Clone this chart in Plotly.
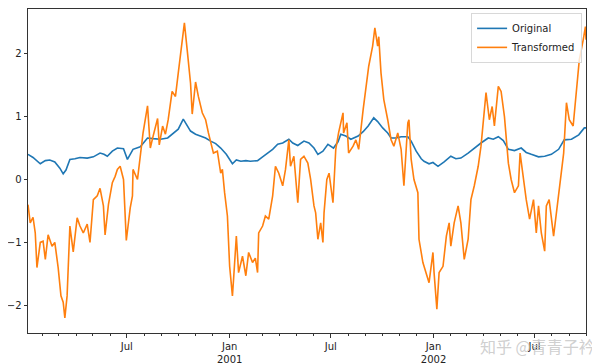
import pandas as pd
import plotly.graph_objects as go

start = pd.Timestamp("2000-01-06")

# Day offsets (from 2000-01-06) and values
orig_day = [0, 9, 22, 31, 39, 48, 57, 63, 68, 75, 84, 93, 106, 117, 129, 136, 142, 151, 160, 171,
            178, 183, 188, 201, 214, 224, 237, 250, 260, 269, 278, 285, 291, 300, 309, 318, 327, 336,
            345, 355, 366, 373, 381, 390, 398, 411, 420, 429, 438, 447, 456, 467, 474, 483, 494, 503,
            512, 519, 528, 537, 547, 555, 560, 569, 578, 591, 600, 609, 619, 626, 635, 644, 650, 659,
            668, 680, 686, 695, 704, 709, 718, 725, 734, 745, 757, 766, 775, 788, 799, 811, 824, 833,
            842, 851, 860, 871, 883, 892, 901, 914, 925, 937, 950, 960, 973, 986, 996, 999]
orig_val = [0.40, 0.35, 0.25, 0.30, 0.31, 0.28, 0.18, 0.09, 0.15, 0.32, 0.33, 0.35, 0.34, 0.36, 0.42,
            0.40, 0.37, 0.45, 0.50, 0.49, 0.32, 0.40, 0.48, 0.52, 0.66, 0.65, 0.64, 0.66, 0.74, 0.80,
            0.96, 0.85, 0.77, 0.72, 0.69, 0.66, 0.61, 0.57, 0.50, 0.40, 0.25, 0.31, 0.29, 0.30, 0.29,
            0.30, 0.36, 0.42, 0.48, 0.56, 0.58, 0.64, 0.58, 0.54, 0.61, 0.58, 0.50, 0.40, 0.45, 0.56,
            0.50, 0.60, 0.72, 0.69, 0.64, 0.69, 0.76, 0.85, 0.98, 0.92, 0.82, 0.74, 0.66, 0.66, 0.68,
            0.68, 0.61, 0.45, 0.33, 0.29, 0.25, 0.27, 0.21, 0.28, 0.37, 0.33, 0.34, 0.42, 0.50, 0.58,
            0.66, 0.64, 0.68, 0.62, 0.48, 0.46, 0.50, 0.43, 0.40, 0.36, 0.37, 0.40, 0.48, 0.63, 0.64,
            0.71, 0.82, 0.82]

trans_day = [0, 4, 9, 13, 16, 22, 27, 31, 36, 43, 48, 54, 59, 63, 66, 70, 75, 81, 88, 93, 99, 106,
             111, 117, 124, 129, 135, 138, 144, 151, 156, 160, 165, 171, 176, 180, 183, 187, 188, 196,
             201, 206, 214, 219, 224, 232, 235, 241, 246, 251, 258, 264, 269, 276, 280, 285, 291, 294,
             300, 305, 312, 318, 323, 332, 339, 345, 348, 352, 357, 361, 366, 368, 373, 377, 384, 390,
             395, 402, 407, 411, 413, 420, 425, 431, 438, 443, 449, 456, 461, 467, 470, 476, 483, 488,
             494, 501, 506, 512, 515, 519, 524, 528, 530, 535, 539, 546, 551, 556, 564, 565, 571, 574,
             582, 587, 592, 600, 605, 610, 617, 621, 626, 628, 632, 637, 644, 650, 655, 662, 668, 673,
             680, 682, 686, 691, 698, 700, 707, 713, 718, 725, 727, 732, 736, 743, 749, 754, 757, 763,
             770, 775, 781, 788, 793, 799, 806, 811, 817, 820, 826, 831, 835, 842, 847, 853, 860, 865,
             871, 878, 881, 887, 892, 898, 905, 910, 914, 919, 925, 928, 933, 941, 946, 951, 959, 964,
             969, 976, 982, 987, 994, 998, 999]
trans_val = [-0.40, -0.69, -0.60, -0.85, -1.40, -1.00, -0.98, -1.27, -0.88, -1.06, -1.00, -1.40,
             -1.85, -1.95, -2.20, -1.85, -0.74, -1.15, -0.61, -0.74, -0.85, -0.71, -1.00, -0.32, -0.26,
             -0.14, -0.42, -0.88, -0.40, -0.05, 0.05, 0.16, 0.21, 0.00, -0.97, -0.66, -0.45, -0.26,
             0.16, 0.00, 0.42, 0.74, 1.17, 0.50, 0.69, 0.97, 0.55, 0.85, 0.72, 0.95, 1.40, 1.32, 1.69,
             2.17, 2.49, 2.06, 1.53, 1.04, 1.55, 1.32, 1.06, 0.95, 0.74, 0.42, 0.45, 0.10, 0.16, -0.21,
             -0.58, -1.38, -1.85, -1.59, -0.90, -1.48, -1.22, -1.53, -1.16, -1.32, -1.25, -1.48, -0.85,
             -0.74, -0.58, -0.63, -0.26, 0.21, 0.10, -0.10, 0.16, 0.63, 0.21, 0.37, -0.37, 0.32, 0.37,
             0.26, 0.00, -0.42, -0.53, -0.95, -0.69, -1.00, -0.53, 0.00, 0.10, -0.37, 0.48, 0.74, 1.06,
             0.74, 0.90, 0.42, 0.53, 0.63, 0.48, 1.11, 1.48, 1.80, 2.12, 2.41, 2.12, 2.27, 1.69, 1.27,
             0.95, 0.63, 0.53, 0.74, 0.48, -0.10, 0.90, 0.95, 0.32, 0.00, -0.21, -0.95, -1.32, -1.48,
             -1.64, -1.16, -1.48, -2.06, -1.48, -1.38, -0.90, -0.69, -1.06, -0.69, -0.42, -0.69, -1.27,
             -0.95, -0.32, -0.10, 0.21, 0.53, 1.16, 1.38, 0.95, 1.16, 0.85, 1.48, 1.40, 1.00, 0.26,
             0.00, -0.21, -0.10, 0.42, 0.00, -0.32, -0.63, -0.32, -0.85, -0.42, -0.85, -1.14, -0.42,
             -0.32, -0.90, -0.53, -0.21, 0.42, 1.22, 0.95, 0.85, 1.38, 1.90, 2.22, 2.43, 2.22]

tick_dates = ["2000-07-01", "2001-01-01", "2001-07-01", "2002-01-01", "2002-07-01"]
tick_labels = ["Jul", "Jan<br>2001", "Jul", "Jan<br>2002", "Jul"]

orig_x = [start + pd.Timedelta(days=d) for d in orig_day]
trans_x = [start + pd.Timedelta(days=d) for d in trans_day]

fig = go.Figure()
fig.add_trace(go.Scatter(x=orig_x, y=orig_val, mode="lines", name="Original",
                         line=dict(color="#1f77b4", width=1.6)))
fig.add_trace(go.Scatter(x=trans_x, y=trans_val, mode="lines", name="Transformed",
                         line=dict(color="#ff7f0e", width=1.6)))

font = "DejaVu Sans, sans-serif"
# page body has an 8px margin, so the figure is 8px smaller and offsets compensate
fig.update_layout(
    width=592, height=356,
    margin=dict(l=20, r=14, t=1, b=31, autoexpand=False),
    paper_bgcolor="white", plot_bgcolor="white",
    font=dict(family=font, size=10, color="#222"),
    showlegend=True,
    legend=dict(x=0.993, y=0.988, xanchor="right", yanchor="top",
                bgcolor="rgba(255,255,255,0.8)", bordercolor="#d8d8d8", borderwidth=1,
                font=dict(size=10, color="#222"), tracegroupgap=0),
    xaxis=dict(
        range=[start, start + pd.Timedelta(days=999)],
        automargin=False,
        showgrid=False, zeroline=False,
        showline=True, mirror=True, linecolor="#333", linewidth=1,
        ticks="outside", ticklen=3.5, tickcolor="#333",
        tickvals=tick_dates, ticktext=tick_labels,
        minor=dict(dtick="M1", tick0="2000-01-01", ticks="outside", ticklen=2, tickcolor="#333"),
    ),
    yaxis=dict(
        range=[-2.44, 2.71],
        automargin=False,
        showgrid=False, zeroline=False,
        showline=True, mirror=True, linecolor="#333", linewidth=1,
        ticks="outside", ticklen=3.5, tickcolor="#333",
        tickvals=[-2, -1, 0, 1, 2], ticktext=["\u22122", "\u22121", "0", "1", "2"],
    ),
)

fig.add_annotation(text="知乎 @青青子衿", xref="paper", yref="paper", x=1.02, y=-0.04,
                   xanchor="right", yanchor="middle", showarrow=False,
                   font=dict(family="Noto Sans CJK SC", size=16, color="rgba(195,195,195,0.8)"))

fig.write_html("out.html")
